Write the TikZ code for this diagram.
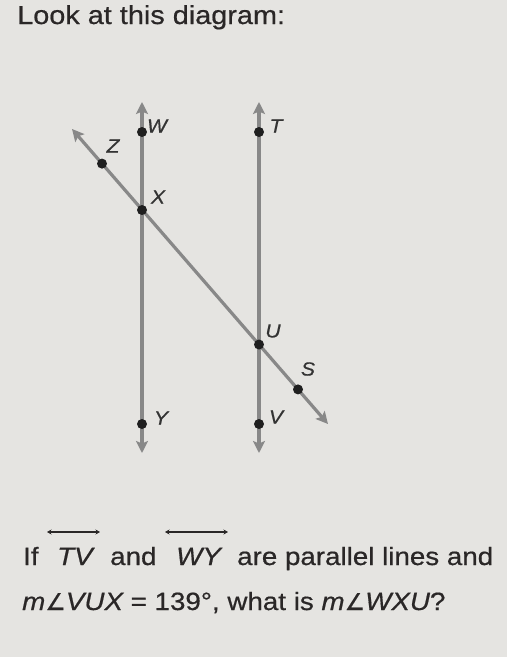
\documentclass[tikz,border=0pt]{standalone}
\usepackage{fontspec}
\setmainfont{Liberation Sans}[FakeStretch=1.11,FakeBold=0.6]
\newfontfamily\symfont{DejaVu Sans}[FakeBold=0.4]
\usetikzlibrary{arrows.meta}
\definecolor{bg}{HTML}{E5E4E1}
\definecolor{ln}{HTML}{888888}
\definecolor{ink}{HTML}{2A2727}
\definecolor{lblc}{HTML}{333333}
\begin{document}
\begin{tikzpicture}[x=1pt,y=-1pt,
  lineln/.style={draw=ln, line width=3.2pt, {Stealth[length=12pt,width=12pt,inset=2.5pt]}-{Stealth[length=12pt,width=12pt,inset=2.5pt]}},
  dot/.style={circle, fill=black!88, inner sep=0pt, minimum size=10pt},
  lbl/.style={text=lblc, font=\fontsize{19}{20}\selectfont\itshape, inner sep=0pt},
  q/.style={anchor=base west, inner sep=0pt, text=ink, font=\fontsize{25}{30}\selectfont},
  oarrow/.style={draw=ink, line width=1.2pt, {Stealth[length=4.5pt,width=5pt]}-{Stealth[length=4.5pt,width=5pt]}}
]
\fill[bg] (0,0) rectangle (507,657);
\useasboundingbox (0,0) rectangle (507,657);

% title
\node[q, font=\fontsize{26}{30}\selectfont] (title) at (17,24) {Look at this diagram:};

% line ends
\coordinate (Wtop) at (142,102);
\coordinate (Ybot) at (142,453);
\coordinate (Ttop) at (259,102);
\coordinate (Vbot) at (259,453);
\coordinate (Ztip) at (72,129);
\coordinate (Stip) at (328,424);

% lines
\draw[lineln] (Wtop) -- (Ybot);
\draw[lineln] (Ttop) -- (Vbot);
\draw[lineln] (Ztip) -- (Stip);

% points
\node[dot] (W) at (142,132) {};
\node[dot] (X) at (142,210) {};
\node[dot] (Y) at (142,424) {};
\node[dot] (T) at (259,132) {};
\node[dot] (U) at (259,344.5) {};
\node[dot] (V) at (259,424) {};
\node[dot] (Z) at (102,163.6) {};
\node[dot] (S) at (298,389.4) {};

% labels
\node[lbl] (lW) at (157,126) {W};
\node[lbl] (lT) at (276,126) {T};
\node[lbl] (lZ) at (113,146) {Z};
\node[lbl] (lX) at (158,197) {X};
\node[lbl] (lU) at (273,331) {U};
\node[lbl] (lS) at (308,369) {S};
\node[lbl] (lY) at (161,418) {Y};
\node[lbl] (lV) at (276,417) {V};

% question line 1
\node[q] (qIf) at (23,565) {If};
\node[q] (qTV) at (57,565) {\itshape TV};
\node[q] (qand) at (110,565) {and};
\node[q] (qWY) at (176,565) {\itshape WY};
\node[q] (qrest) at (237,565) {are parallel lines and};
\coordinate (tvL) at (47,532);
\coordinate (tvR) at (100,532);
\coordinate (wyL) at (165,532);
\coordinate (wyR) at (228,532);
\draw[oarrow] (tvL) -- (tvR);
\draw[oarrow] (wyL) -- (wyR);

% question line 2
\node[q] (qline2) at (22,610) {\itshape m{\symfont\upshape\fontsize{23}{30}\selectfont ∠}VUX\upshape{} = 139°, what is \itshape m{\symfont\upshape\fontsize{23}{30}\selectfont ∠}WXU\upshape ?};
\end{tikzpicture}
\end{document}
